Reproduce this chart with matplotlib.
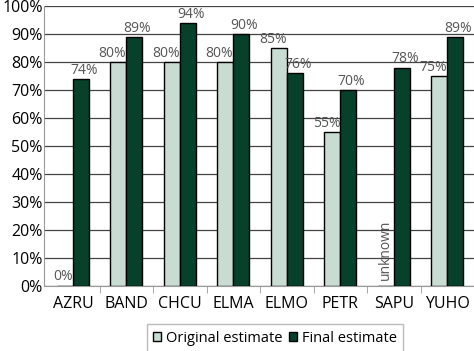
import matplotlib.pyplot as plt
import numpy as np

sites = ['AZRU', 'BAND', 'CHCU', 'ELMA', 'ELMO', 'PETR', 'SAPU', 'YUHO']
original = [0, 80, 80, 80, 85, 55, None, 75]   # None = unknown
final = [74, 89, 94, 90, 76, 70, 78, 89]

c_orig = '#c9dcd2'
c_final = '#07402b'

plt.rcParams['font.family'] = ['Open Sans', 'DejaVu Sans']

fig = plt.figure(figsize=(4.74, 3.51), dpi=100)
ax = fig.add_axes([44 / 474, 65 / 351, 430 / 474, 280 / 351])

x = np.arange(len(sites))
w = 0.3
orig_vals = [v if v is not None else 0 for v in original]
ax.bar(x - w / 2, orig_vals, w, color=c_orig, edgecolor='black', linewidth=1.0,
       label='Original estimate', zorder=3)
ax.bar(x + w / 2, final, w, color=c_final, edgecolor='black', linewidth=1.0,
       label='Final estimate', zorder=3)

lab = dict(fontsize=10, color='#555555')
for i, v in enumerate(original):
    if v is None:
        ax.text(x[i] - w / 2, 2, 'unknown', rotation=90, ha='center', va='bottom', **lab)
    elif v == 0:
        ax.text(x[i] - w / 2 - 0.03, 0.8, '0%', ha='center', va='bottom', **lab)
    else:
        ax.text(x[i] + 0.0, v + 0.4, '%d%%' % v, ha='right', va='bottom', **lab)
for i, v in enumerate(final):
    ax.text(x[i] - 0.05, v + 0.4, '%d%%' % v, ha='left', va='bottom', **lab)

ax.set_xlim(-0.54, 7.5)
ax.set_ylim(0, 100)
ax.set_yticks(range(0, 101, 10))
ax.set_yticklabels(['%d%%' % t for t in range(0, 101, 10)], fontsize=11.5)
ax.set_xticks(x)
ax.set_xticklabels(sites, fontsize=11.5)
ax.set_xticks(np.arange(0.5, 7.5, 1), minor=True)
ax.tick_params(axis='x', which='major', length=0, pad=7)
ax.tick_params(axis='x', which='minor', length=5, color='#999999')
ax.tick_params(axis='y', length=0, pad=1)

ax.grid(axis='y', color='#444444', linewidth=0.9, zorder=0)
for s in ['right', 'top']:
    ax.spines[s].set_visible(False)
ax.spines['left'].set_color('#999999')
ax.spines['bottom'].set_color('#999999')

leg = fig.legend(loc='lower center', bbox_to_anchor=(275 / 474, -0.025), ncol=2, fontsize=10.5,
                 frameon=True, fancybox=False, edgecolor='#aaaaaa', handlelength=0.55,
                 handleheight=0.55, handletextpad=0.3, columnspacing=0.5, borderpad=0.45)
for p in leg.get_patches():
    p.set_linewidth(1.0)

fig.savefig('out.png', dpi=100)
